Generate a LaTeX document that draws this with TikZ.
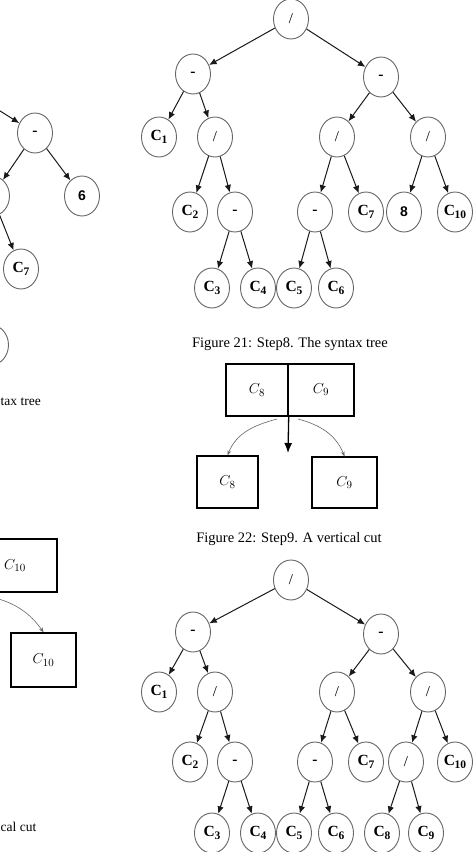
\documentclass[tikz,border=0pt]{standalone}
\usepackage{fontspec}
\setmainfont{Liberation Serif}
\newfontfamily\sansf{Liberation Sans}
\usetikzlibrary{shapes.geometric,arrows.meta}
\newcommand{\Cn}[1]{C\kern-0.3pt\raisebox{-2.8pt}{\fontsize{11.5}{11.5}\selectfont #1}}
\newcommand{\slsh}{\normalfont\fontsize{15}{15}\selectfont /}
\newcommand{\mn}{\textbf{-}}
\tikzset{
  tn/.style={ellipse, draw=black!60, line width=0.9pt, minimum width=35pt, minimum height=40pt, inner sep=0pt, font=\fontsize{15.5}{15.5}\selectfont\bfseries},
  nb/.style={tn, font=\sansf\fontsize{14}{14}\selectfont\bfseries},
  edge/.style={-{Latex[length=7.5pt,width=6.5pt]}, line width=1pt, black!90},
  cbox/.style={draw, line width=1.4pt, inner sep=0pt, font=\fontsize{15}{15}\selectfont},
  captxt/.style={font=\fontsize{14.5}{16}\selectfont, inner sep=0pt},
  curv/.style={-{Stealth[length=5pt,width=4pt]}, line width=0.6pt, black!60},
  cutarr/.style={-{Latex[length=10pt,width=8pt]}, line width=1.3pt},
}
\begin{document}
\begin{tikzpicture}[x=1pt,y=1pt]
\useasboundingbox (0,0) rectangle (474,-852);
\clip (0,0) rectangle (474,-852);
\fill[white] (0,0) rectangle (474,-852);

% ---- left column (partial) ----
\coordinate (lp) at (-60,-73);
\node[tn] (lm) at (35,-133) {\mn};
\node[tn] (lx) at (-8,-196) {};
\node[nb] (l6) at (82,-196) {6};
\node[tn] (lc7) at (21,-269) {\Cn{7}};
\node[tn] (ly) at (-9,-345) {};
\draw[edge] (lp) -- (lm);
\draw[edge] (lm) -- (lx);
\draw[edge] (lm) -- (l6);
\draw[edge] (lx) -- (lc7);
\node[captxt, anchor=west, font=\fontsize{13.5}{15}\selectfont] (lcap1) at (0.5,-402) {tax tree};

\node[cbox, minimum width=84pt, minimum height=53pt] (lb10) at (15,-565.5) {$C_{10}$};
\node[cbox, minimum width=65pt, minimum height=54pt] (lc10) at (43.5,-660) {$C_{10}$};
\coordinate (lcs) at (-25,-594);
\draw[curv] (lcs) to[out=-8, in=125] (lc10.north);
\node[captxt, anchor=west, font=\fontsize{13.5}{15}\selectfont] (lcap2) at (0.5,-827) {cal cut};

% ---- Figure 21 tree ----
\node[tn] (r) at (291,-19) {\slsh};
\node[tn] (a) at (193,-74) {\mn};
\node[tn] (b) at (381,-77) {\mn};
\node[tn] (a1) at (159,-137) {\Cn{1}};
\node[tn] (a2) at (215,-137) {\slsh};
\node[tn] (b1) at (337,-137) {\slsh};
\node[tn] (b2) at (428,-137) {\slsh};
\node[tn] (a21) at (190,-212) {\Cn{2}};
\node[tn] (a22) at (235,-212) {\mn};
\node[tn] (b11) at (315,-212) {\mn};
\node[tn] (b12) at (366,-212) {\Cn{7}};
\node[nb] (b21) at (404,-212) {8};
\node[tn] (b22) at (455,-212) {\Cn{10}};
\node[tn] (a221) at (212,-288) {\Cn{3}};
\node[tn] (a222) at (258,-288) {\Cn{4}};
\node[tn] (b111) at (294,-288) {\Cn{5}};
\node[tn] (b112) at (336,-288) {\Cn{6}};
\foreach \p/\c in {r/a, r/b, a/a1, a/a2, b/b1, b/b2, a2/a21, a2/a22, b1/b11, b1/b12, b2/b21, b2/b22, a22/a221, a22/a222, b11/b111, b11/b112}
  \draw[edge] (\p) -- (\c);
\node[captxt] (cap21) at (290,-344) {Figure 21: Step8. The syntax tree};

% ---- Figure 22 ----
\node[cbox, minimum width=62pt, minimum height=52pt] (h8) at (257,-390) {$C_8$};
\node[cbox, minimum width=66pt, minimum height=52pt] (h9) at (321,-390) {\raisebox{3pt}{$C_9$}};
\coordinate (cutend) at (288,-453);
\draw[cutarr] (h8.south east) -- (cutend);
\node[cbox, minimum width=61pt, minimum height=52pt] (l8) at (227.5,-482) {$C_8$};
\node[cbox, minimum width=65pt, minimum height=51pt] (r9) at (344.5,-482.5) {$C_9$};
\coordinate (cs1) at (277,-419);
\coordinate (cs2) at (298,-419);
\draw[curv] (cs1) to[out=195, in=68] (l8.north);
\draw[curv] (cs2) to[out=-15, in=112] (r9.north);
\node[captxt] (cap22) at (289,-539) {Figure 22: Step9. A vertical cut};

% ---- Figure 23 tree ----
\node[tn] (R) at (291,-580) {\slsh};
\node[tn] (A) at (193,-632) {\mn};
\node[tn] (B) at (381,-634) {\mn};
\node[tn] (A1) at (159,-692) {\Cn{1}};
\node[tn] (A2) at (215,-692) {\slsh};
\node[tn] (B1) at (337,-692) {\slsh};
\node[tn] (B2) at (428,-692) {\slsh};
\node[tn] (A21) at (190,-762) {\Cn{2}};
\node[tn] (A22) at (235,-762) {\mn};
\node[tn] (B11) at (315,-762) {\mn};
\node[tn] (B12) at (366,-762) {\Cn{7}};
\node[tn] (B21) at (406,-762) {\slsh};
\node[tn] (B22) at (455,-762) {\Cn{10}};
\node[tn] (A221) at (212,-833) {\Cn{3}};
\node[tn] (A222) at (258,-833) {\Cn{4}};
\node[tn] (B111) at (294,-833) {\Cn{5}};
\node[tn] (B112) at (336,-833) {\Cn{6}};
\node[tn] (B211) at (382,-833) {\Cn{8}};
\node[tn] (B212) at (426,-833) {\Cn{9}};
\foreach \p/\c in {R/A, R/B, A/A1, A/A2, B/B1, B/B2, A2/A21, A2/A22, B1/B11, B1/B12, B2/B21, B2/B22, A22/A221, A22/A222, B11/B111, B11/B112, B21/B211, B21/B212}
  \draw[edge] (\p) -- (\c);
\end{tikzpicture}
\end{document}
